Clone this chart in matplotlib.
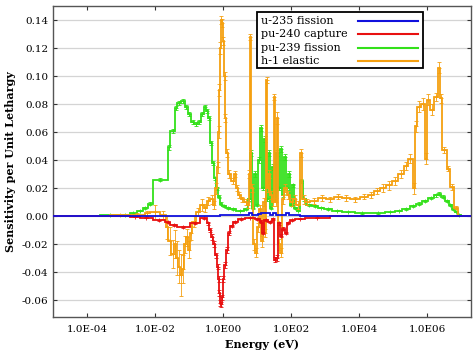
import numpy as np
import matplotlib
matplotlib.use('Agg')
import matplotlib.pyplot as plt
from matplotlib.patches import Rectangle

plt.rcParams['font.family'] = 'DejaVu Serif'

# group boundaries (eV) and sensitivity per unit lethargy for each series
u235_edges = [1e-5, 0.211, 0.816, 3.16, 5.82, 7.13, 10.7, 13.1, 24.1, 29.5, 36.2, 71.3, 87.3, 184, 1.97e7]
u235_vals = [0.0, 0.0003, 0.0005, 0.0008, 0.002, 0.0008, 0.0012, 0.0025, 0.001, 0.002, 0.0008, 0.0025, 0.0005, 0.0]

pu240_edges = [1e-5, 1.8e-3, 3.6e-3, 8.7e-3, 2.0e-2, 2.8e-2, 4.4e-2, 0.107, 0.211, 0.338,
               0.387, 0.444, 0.508, 0.582, 0.667, 0.713, 0.763, 0.816, 0.873, 0.934,
               1.0, 1.07, 1.22, 1.40, 1.61, 1.97, 2.76, 4.44, 8.73, 12.2,
               14.0, 16.1, 21.1, 27.6, 31.6, 36.2, 41.5, 47.5, 54.3, 66.6,
               76.2, 93.5, 131, 258, 1400, 1.97e7]
pu240_vals = [0.0, -0.0005, -0.001, -0.003, -0.0045, -0.0064, -0.0076, -0.005, -0.0015, -0.005,
              -0.01, -0.015, -0.02, -0.028, -0.036, -0.045, -0.055, -0.062, -0.063, -0.058,
              -0.045, -0.035, -0.024, -0.012, -0.007, -0.004, -0.002, -0.001, -0.002, -0.004,
              -0.012, -0.003, -0.004, -0.002, -0.031, -0.03, -0.005, -0.014, -0.009, -0.012,
              -0.005, -0.003, -0.002, -0.001, 0.0]
pu240_err = [0, 0.0003, 0.0003, 0.0005, 0.0005, 0.0006, 0.0006, 0.0005, 0.0005, 0.001,
             0.0015, 0.002, 0.002, 0.002, 0.002, 0.002, 0.002, 0.002, 0.002, 0.002,
             0.002, 0.002, 0.002, 0.0015, 0.001, 0.0008, 0.0005, 0.0004, 0.0005, 0.001,
             0.001, 0.0008, 0.0008, 0.0005, 0.002, 0.002, 0.001, 0.001, 0.001, 0.001,
             0.0008, 0.0005, 0.0004, 0.0003, 0]

pu239_edges = [1e-5, 2.4e-4, 9.4e-4, 1.8e-3, 3.0e-3, 4.4e-3, 6.2e-3, 8.7e-3, 2.4e-2, 2.8e-2,
               3.9e-2, 4.4e-2, 5.8e-2, 7.6e-2, 9.3e-2, 0.115, 0.14, 0.184, 0.225, 0.276,
               0.316, 0.362, 0.415, 0.475, 0.543, 0.622, 0.713, 0.816, 0.934, 1.22,
               1.61, 2.41, 4.15, 5.44, 6.22, 7.13, 8.16, 9.35, 10.7, 12.2,
               14.0, 16.1, 18.4, 21.1, 24.1, 27.6, 31.6, 36.2, 41.5, 47.5,
               54.3, 62.2, 71.3, 81.6, 93.5, 107, 122, 150, 184, 225,
               276, 415, 622, 934, 1610, 3160, 7620, 21100, 58200, 1.15e5,
               1.84e5, 3.16e5, 4.75e5, 7.13e5, 1.07e6, 1.61e6, 2.11e6, 2.58e6, 3.38e6, 4.44e6,
               5.44e6, 6.66e6, 8.16e6, 1.0e7, 1.97e7]
pu239_vals = [0.0, 0.0005, 0.001, 0.002, 0.004, 0.006, 0.009, 0.026, 0.049, 0.061,
              0.077, 0.081, 0.082, 0.078, 0.073, 0.067, 0.066, 0.067, 0.073, 0.078,
              0.075, 0.07, 0.052, 0.038, 0.027, 0.02, 0.014, 0.009, 0.007, 0.006,
              0.005, 0.004, 0.005, 0.012, 0.045, 0.006, 0.03, 0.008, 0.04, 0.063,
              0.02, 0.055, 0.012, 0.045, 0.006, 0.035, 0.012, 0.045, 0.02, 0.048,
              0.015, 0.042, 0.02, 0.03, 0.008, 0.022, 0.006, 0.004, 0.025, 0.012,
              0.008, 0.007, 0.006, 0.005, 0.004, 0.003, 0.002, 0.002, 0.003, 0.004,
              0.005, 0.007, 0.009, 0.011, 0.013, 0.015, 0.016, 0.014, 0.011, 0.008,
              0.005, 0.003, 0.001, 0.0]
pu239_err = [0, 0.0002, 0.0003, 0.0005, 0.0005, 0.0008, 0.001, 0.001, 0.0015, 0.0015,
             0.0015, 0.0015, 0.0015, 0.0015, 0.0015, 0.0015, 0.0015, 0.0015, 0.0015, 0.0015,
             0.0015, 0.0015, 0.0015, 0.0015, 0.0012, 0.001, 0.001, 0.001, 0.0008, 0.0008,
             0.0006, 0.0006, 0.0006, 0.001, 0.002, 0.001, 0.002, 0.001, 0.002, 0.002,
             0.001, 0.002, 0.001, 0.002, 0.001, 0.002, 0.001, 0.002, 0.001, 0.002,
             0.001, 0.002, 0.001, 0.002, 0.001, 0.001, 0.0008, 0.0006, 0.0015, 0.001,
             0.0008, 0.0006, 0.0005, 0.0005, 0.0004, 0.0003, 0.0003, 0.0003, 0.0003, 0.0004,
             0.0005, 0.0006, 0.0008, 0.0008, 0.001, 0.001, 0.001, 0.001, 0.0008, 0.0006,
             0.0005, 0.0004, 0.0002, 0]

h1_edges = [1e-5, 4.7e-4, 1.8e-3, 5.1e-3, 7.1e-3, 1.4e-2, 2.1e-2, 2.4e-2, 3.0e-2, 3.6e-2,
            4.1e-2, 4.7e-2, 5.4e-2, 6.2e-2, 7.1e-2, 8.2e-2, 9.3e-2, 0.107, 0.122, 0.161,
            0.211, 0.276, 0.338, 0.415, 0.508, 0.582, 0.667, 0.713, 0.763, 0.816,
            0.873, 0.934, 1.0, 1.07, 1.15, 1.22, 1.40, 1.72, 2.11, 2.41,
            2.76, 3.38, 4.15, 5.08, 5.82, 6.22, 6.66, 7.62, 8.73, 10.0,
            11.5, 13.1, 15.0, 17.2, 18.4, 19.7, 21.1, 24.1, 27.6, 31.6,
            33.8, 38.7, 41.5, 47.5, 54.3, 62.2, 76.2, 93.5, 115, 140,
            184, 211, 258, 362, 622, 1070, 1840, 3160, 5440, 10700,
            18400, 27600, 41500, 62200, 93400, 1.40e5, 2.11e5, 2.76e5, 3.87e5, 4.44e5,
            5.08e5, 6.66e5, 8.73e5, 1.0e6, 1.22e6, 1.61e6, 2.11e6, 2.41e6, 2.76e6, 3.87e6,
            4.75e6, 6.22e6, 8.16e6, 1.97e7]
h1_vals = [0.0, 0.0005, 0.001, 0.002, 0.003, 0.001, -0.008, -0.018, -0.027, -0.02,
           -0.03, -0.036, -0.042, -0.038, -0.02, -0.015, -0.024, -0.012, -0.004, 0.003,
           0.008, 0.006, 0.011, 0.012, 0.008, 0.02, 0.035, 0.06, 0.09, 0.12,
           0.14, 0.138, 0.125, 0.1, 0.07, 0.045, 0.03, 0.025, 0.03, 0.02,
           0.015, 0.012, 0.01, 0.008, 0.03, 0.128, 0.02, -0.02, -0.026, -0.008,
           0.005, -0.018, 0.01, -0.012, 0.097, 0.02, 0.03, 0.015, 0.01, 0.085,
           0.01, 0.07, -0.02, -0.026, 0.012, 0.02, 0.015, 0.01, 0.012, 0.008,
           0.045, 0.012, 0.01, 0.011, 0.013, 0.012, 0.014, 0.013, 0.012, 0.014,
           0.015, 0.018, 0.02, 0.022, 0.025, 0.03, 0.036, 0.041, 0.02, 0.064,
           0.078, 0.08, 0.041, 0.083, 0.076, 0.085, 0.106, 0.084, 0.047, 0.034,
           0.021, 0.006, 0.0]
h1_err = [0, 0.0003, 0.001, 0.002, 0.005, 0.003, 0.008, 0.01, 0.01, 0.01,
          0.012, 0.012, 0.015, 0.01, 0.006, 0.006, 0.006, 0.005, 0.004, 0.003,
          0.004, 0.003, 0.003, 0.003, 0.003, 0.004, 0.004, 0.004, 0.004, 0.004,
          0.003, 0.003, 0.003, 0.003, 0.003, 0.003, 0.003, 0.002, 0.002, 0.002,
          0.002, 0.002, 0.002, 0.002, 0.003, 0.002, 0.003, 0.004, 0.003, 0.003,
          0.003, 0.004, 0.003, 0.003, 0.002, 0.003, 0.003, 0.003, 0.003, 0.002,
          0.003, 0.004, 0.004, 0.003, 0.003, 0.003, 0.003, 0.003, 0.003, 0.003,
          0.003, 0.003, 0.002, 0.002, 0.002, 0.002, 0.002, 0.002, 0.002, 0.002,
          0.002, 0.002, 0.003, 0.003, 0.003, 0.003, 0.003, 0.003, 0.004, 0.004,
          0.004, 0.004, 0.004, 0.004, 0.004, 0.003, 0.004, 0.003, 0.002, 0.002,
          0.002, 0.001, 0]

labels = ['u-235 fission', 'pu-240 capture', 'pu-239 fission', 'h-1 elastic']
colors = ['#1010dd', '#e81010', '#33e01a', '#f5a010']
xtick_vals = [1e-4, 1e-2, 1e0, 1e2, 1e4, 1e6]
xtick_labels = ['1.0E-04', '1.0E-02', '1.0E00', '1.0E02', '1.0E04', '1.0E06']

fig = plt.figure(figsize=(4.74, 3.55), dpi=100)
ax = fig.add_axes([53 / 474, 1 - 317 / 355, 418 / 474, 311 / 355])

series = [
    (pu239_edges, pu239_vals, pu239_err, colors[2], 2),
    (h1_edges, h1_vals, h1_err, colors[3], 3),
    (pu240_edges, pu240_vals, pu240_err, colors[1], 4),
]
for edges, vals, err, c, z in series:
    e = np.array(edges)
    v = np.array(vals)
    s = np.array(err)
    ax.stairs(v, e, baseline=None, color=c, lw=1.3, zorder=z)
    mid = np.sqrt(e[:-1] * e[1:])
    m = s > 0
    ax.errorbar(mid[m], v[m], yerr=s[m], fmt='+', ms=3, mew=0.6, color=c,
                elinewidth=0.6, capsize=1.5, capthick=0.6, zorder=z)

ax.stairs(u235_vals, u235_edges, baseline=None, color=colors[0], lw=1.3, zorder=5)

ax.set_xscale('log')
ax.set_xlim(1e-5, 1.97e7)
ax.set_ylim(-0.072, 0.15)
ax.set_xticks(xtick_vals)
ax.set_xticklabels(xtick_labels)
ax.xaxis.set_minor_locator(matplotlib.ticker.NullLocator())
ax.set_yticks(np.arange(-0.06, 0.141, 0.02))
ax.yaxis.set_major_formatter(matplotlib.ticker.FormatStrFormatter('%.2f'))
ax.tick_params(direction='in', top=True, right=True, length=3, width=0.8,
               labelsize=7.5, colors='#333333', labelcolor='black')
ax.tick_params(axis='x', pad=6)
ax.grid(axis='y', color='#d4d4d4', lw=0.9)
ax.set_axisbelow(True)
for sp in ax.spines.values():
    sp.set_color('#555555')
    sp.set_linewidth(1.0)

ax.set_xlabel('Energy (eV)', fontsize=8, fontweight='bold', labelpad=3)
ax.set_ylabel('Sensitivity per Unit Lethargy', fontsize=8, fontweight='bold', labelpad=4)

# legend box drawn by hand: text on the left, line sample on the right
box = Rectangle((0.488, 0.80), 0.397, 0.181, transform=ax.transAxes, facecolor='white',
                edgecolor='black', lw=1.3, zorder=10)
ax.add_patch(box)
row_y = [0.952, 0.909, 0.865, 0.823]
for lab, c, y in zip(labels, colors, row_y):
    ax.text(0.498, y, lab, transform=ax.transAxes, fontsize=8, va='center', ha='left', zorder=11)
    ax.plot([0.730, 0.873], [y, y], transform=ax.transAxes, color=c, lw=1.5, zorder=11)

fig.savefig('out.png', dpi=100)
